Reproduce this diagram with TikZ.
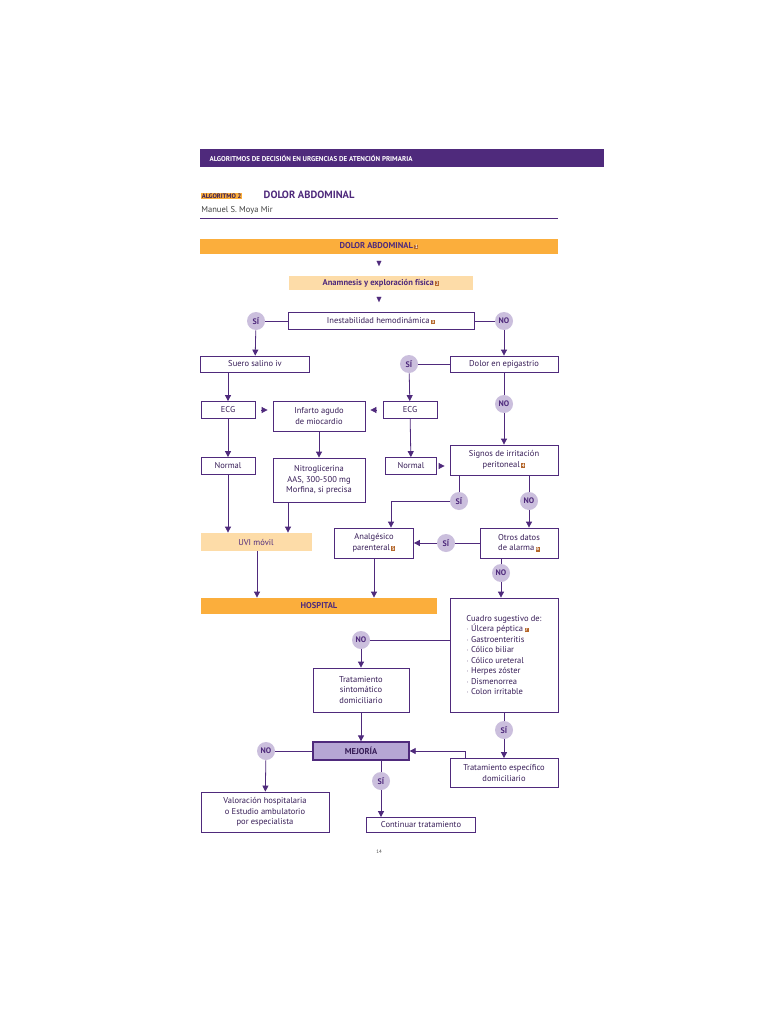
\documentclass[tikz,border=0pt]{standalone}
\usepackage{amssymb}
\usepackage{fontspec}
\setmainfont{PT Sans}
\usetikzlibrary{arrows.meta}
\definecolor{morado}{HTML}{4F2A7C}
\definecolor{naranja}{HTML}{FBAE3C}
\definecolor{crema}{HTML}{FDDCA8}
\definecolor{lila}{HTML}{CBBFDD}
\definecolor{lilaosc}{HTML}{B6A6D4}
\definecolor{marron}{HTML}{B4662A}
\newcommand{\nota}[1]{\,{\setlength{\fboxsep}{0.6pt}\colorbox{marron}{\textcolor{white}{\bfseries\tiny #1}}}}

\begin{document}
\begin{tikzpicture}[x=1pt,y=-1pt,font=\fontsize{8.5}{10.5}\selectfont,
        draw=morado,line width=0.8pt,text=morado!70!black]
        \tikzstyle{caja}=[draw=morado,fill=white,inner sep=1pt,align=center]
        \tikzstyle{banda}=[inner sep=0pt,font=\fontsize{8.5}{10}\selectfont\bfseries,text=morado]
        \tikzstyle{bola}=[circle,fill=lila,minimum size=18pt,inner sep=0pt,font=\fontsize{8}{9}\selectfont\bfseries,text=morado]
        \tikzstyle{flecha}=[-{Triangle[length=6pt,width=6pt]}]
        \tikzstyle{punta}=[flecha,shorten <=6pt,shorten >=5pt]

        \useasboundingbox[fill=white] (0,0) rectangle (768,1024);

        % Cabecera
        \node[fill=morado,minimum width=404,minimum height=18,inner sep=0pt] (cab) at (402,158) {};
        \node[anchor=west,text=white,font=\fontsize{7}{8}\selectfont\bfseries] at (206,159) {ALGORITMOS DE DECISIÓN EN URGENCIAS DE ATENCIÓN PRIMARIA};
        \node[anchor=west,fill=naranja,inner sep=0.5pt,font=\fontsize{6.5}{7}\selectfont\bfseries] (alg) at (201,196) {ALGORITMO 2};
        \node[anchor=west,text=morado,font=\fontsize{10.5}{12}\selectfont\bfseries] at (260,195) {DOLOR ABDOMINAL};
        \node[anchor=west,text=black!75,inner sep=0pt] at (201,210) {Manuel S. Moya Mir};
        \draw (200,218) -- (558,218);

        % Entrada
        \node[banda,fill=naranja,minimum width=358,minimum height=15] (dolor) at (379,246) {DOLOR ABDOMINAL\nota{1}};
        \node[text=morado,inner sep=0pt,font=\small] (t1) at (379,264) {$\blacktriangledown$};
        \node[banda,fill=crema,minimum width=184,minimum height=14] (anam) at (381,283) {Anamnesis y exploración física\nota{2}};
        \node[text=morado,inner sep=0pt,font=\small] (t2) at (379,300) {$\blacktriangledown$};
        \node[caja,minimum width=186,minimum height=17] (inest) at (381,321) {Inestabilidad hemodinámica\nota{3}};
        \node[bola] (si1) at (256,321) {SÍ};
        \node[bola] (no1) at (504,321) {NO};

        % Rama izquierda
        \node[caja,minimum width=109,minimum height=16] (suero) at (255,364) {Suero salino iv};
        \node[caja,minimum width=54,minimum height=17] (ecgL) at (228,410) {ECG};
        \node[caja,minimum width=92,minimum height=30] (infarto) at (319,416) {Infarto agudo\\de miocardio};
        \node[caja,minimum width=54,minimum height=17] (normL) at (228,466) {Normal};
        \node[caja,minimum width=92,minimum height=44] (nitro) at (319,480) {Nitroglicerina\\AAS, 300-500 mg\\Morfina, si precisa};
        \node[banda,fill=crema,font=\fontsize{8.5}{10}\selectfont,minimum width=111,minimum height=18] (uvi) at (256,542) {UVI móvil};
        \node[banda,fill=naranja,minimum width=236,minimum height=16] (hosp) at (319,606) {HOSPITAL};

        % Rama derecha
        \node[caja,minimum width=108,minimum height=16] (epi) at (504,364) {Dolor en epigastrio};
        \node[bola] (si2) at (409,364) {SÍ};
        \node[caja,minimum width=54,minimum height=17] (ecgR) at (410,410) {ECG};
        \node[bola] (no2) at (504,404) {NO};
        \node[caja,minimum width=51,minimum height=17] (normR) at (411,466) {Normal};
        \node[caja,minimum width=108,minimum height=30] (signos) at (504,460) {Signos de irritación\\peritoneal\nota{4}};
        \node[bola] (si3) at (459,501) {SÍ};
        \node[bola] (no3) at (529,501) {NO};
        \node[caja,minimum width=79,minimum height=30] (analg) at (374,543) {Analgésico\\parenteral\nota{5}};
        \node[caja,minimum width=78,minimum height=30] (otros) at (519,543) {Otros datos\\de alarma\nota{6}};
        \node[bola] (si4) at (446,543) {SÍ};
        \node[bola] (no4) at (501,573) {NO};
        \node[caja,minimum width=108,minimum height=114,align=left] (cuadro) at (504,655) {Cuadro sugestivo de:\\
            $\cdot$ Úlcera péptica\nota{7}\\ $\cdot$ Gastroenteritis\\ $\cdot$ Cólico biliar\\
            $\cdot$ Cólico ureteral\\ $\cdot$ Herpes zóster\\ $\cdot$ Dismenorrea\\ $\cdot$ Colon irritable};

        % Tratamiento
        \node[bola] (no5) at (361,640) {NO};
        \node[caja,minimum width=96,minimum height=44] (sinto) at (361,690) {Tratamiento\\sintomático\\domiciliario};
        \node[bola] (si5) at (504,730) {SÍ};
        \node[caja,minimum width=108,minimum height=29] (espec) at (504,773) {Tratamiento específico\\domiciliario};
        \node[caja,fill=lilaosc,line width=1.3pt,font=\fontsize{8.5}{10}\selectfont\bfseries,minimum width=96,minimum height=18] (mejor) at (361,751) {MEJORÍA};
        \node[bola] (no6) at (266,751) {NO};
        \node[bola] (si6) at (381,781) {SÍ};
        \node[caja,minimum width=128,minimum height=40] (valor) at (265,812) {Valoración hospitalaria\\o Estudio ambulatorio\\por especialista};
        \node[caja,minimum width=109,minimum height=15] (cont) at (421,825) {Continuar tratamiento};
        \node[text=black!70,font=\tiny] (pag) at (379,852) {14};

        % Conexiones superiores
        \draw (si1) -- (inest) -- (no1);
        \draw[flecha] (si1) -- (suero);
        \draw[flecha] (no1) -- (epi);
        \draw[flecha] (suero.south -| ecgL) -- (ecgL);
        \draw (epi) -- (si2);
        \draw[flecha] (si2) -- (ecgR);
        \draw[punta] (ecgL) -- (infarto.west |- ecgL);
        \draw[punta] (ecgR) -- (infarto.east |- ecgR);
        \draw[flecha] (ecgL) -- (normL);
        \draw[flecha] (infarto) -- (nitro);
        \draw[flecha] (ecgR) -- (normR);
        \draw (epi) -- (no2);
        \draw[flecha] (no2) -- (signos);
        \draw[punta] (normR) -- (signos.west |- normR);

        % Conexiones centrales
        \draw[flecha] (normL) -- (uvi.north -| normL);
        \draw[flecha] (nitro.south -| 288,0) -- (uvi.north -| 288,0);
        \draw[flecha] (uvi.south -| 257,0) -- (hosp.north -| 257,0);
        \draw (signos.south -| si3) -- (si3);
        \draw[flecha] (si3) -| (391,0 |- analg.north);
        \draw (signos.south -| no3) -- (no3);
        \draw[flecha] (no3) -- (otros.north -| no3);
        \draw (otros) -- (si4);
        \draw[flecha] (si4) -- (analg);
        \draw (otros.south -| no4) -- (no4);
        \draw[flecha] (no4) -- (cuadro.north -| no4);
        \draw[flecha] (analg) -- (hosp.north -| analg);

        % Conexiones inferiores
        \draw (cuadro.west |- no5) -- (no5);
        \draw[flecha] (no5) -- (sinto);
        \draw[flecha] (sinto) -- (mejor);
        \draw (cuadro) -- (si5);
        \draw[flecha] (si5) -- (espec);
        \draw[flecha] (espec.north -| 465,0) |- (mejor.east);
        \draw (mejor) -- (no6);
        \draw[flecha] (no6) -- (valor);
        \draw (mejor.south -| si6) -- (si6);
        \draw[flecha] (si6) -- (cont.north -| si6);
\end{tikzpicture}
\end{document}
